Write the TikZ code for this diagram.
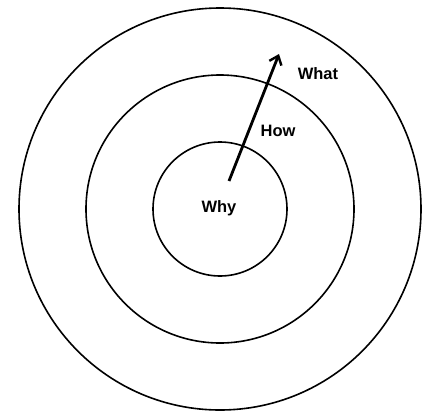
\documentclass[tikz,border=0pt]{standalone}
\usepackage{fontspec}
\setmainfont{Liberation Sans}
\usetikzlibrary{arrows.meta}
\begin{document}
\begin{tikzpicture}[x=1pt,y=-1pt,
  ring/.style={draw=black,line width=1.6pt,circle,inner sep=0pt},
  lbl/.style={font=\bfseries\fontsize{16.5}{18}\selectfont,inner sep=1pt},
  arr/.style={line width=2.8pt,-{Straight Barb[length=8pt,width=13pt,line width=2.4pt]}}]
\useasboundingbox (0,0) rectangle (439,418);
\fill[white] (0,0) rectangle (439,418);
\node[ring,minimum size=402pt] (outer) at (220,209) {};
\node[ring,minimum size=268pt] (middle) at (220,209) {};
\node[ring,minimum size=134pt] (inner) at (220,209) {};
\node[lbl] (why) at (219,208) {Why};
\node[lbl] (how) at (278,131) {How};
\node[lbl] (what) at (318,74) {What};
\coordinate (s) at (229,181);
\coordinate (t) at (279,54);
\draw[arr] (s) -- (t);
\end{tikzpicture}
\end{document}
